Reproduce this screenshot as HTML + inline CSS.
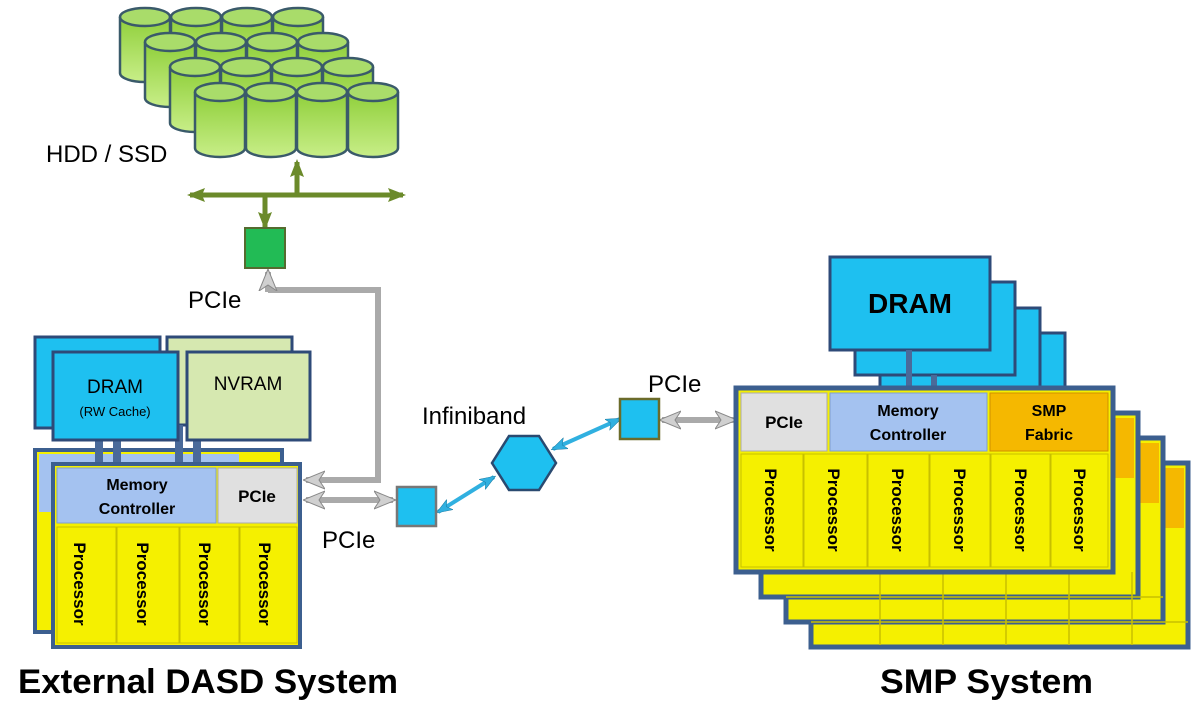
<!DOCTYPE html>
<html><head><style>html,body{margin:0;padding:0;background:#fff;width:1204px;height:706px;overflow:hidden}</style></head>
<body>
<svg width="1204" height="706" viewBox="0 0 1204 706" xmlns="http://www.w3.org/2000/svg" font-family="Liberation Sans, sans-serif">
<defs>
<linearGradient id="cyl" x1="0" x2="0" y1="0" y2="1"><stop offset="0" stop-color="#8fcf3a"/><stop offset="1" stop-color="#c8ee88"/></linearGradient>
<marker id="ag" markerWidth="18" markerHeight="18" refX="15" refY="9" orient="auto-start-reverse" markerUnits="userSpaceOnUse"><path d="M0,2 L18,9 L0,16 L3,9 z" fill="#6b8a2a"/></marker>
<marker id="agr" markerWidth="22" markerHeight="22" refX="19" refY="11" orient="auto-start-reverse" markerUnits="userSpaceOnUse"><path d="M0,2 L22,11 L0,20 L6,11 z" fill="#d0d0d0" stroke="#888" stroke-width="1"/></marker>
<marker id="ab" markerWidth="16" markerHeight="14" refX="14" refY="7" orient="auto-start-reverse" markerUnits="userSpaceOnUse"><path d="M0,1 L16,7 L0,13 L4,7 z" fill="#30b0e0" stroke="#1a7aa0" stroke-width="0.5"/></marker>
<g id="cy">
<path d="M0,9 L0,65 A25,9 0 0 0 50,65 L50,9" fill="url(#cyl)" stroke="#3a5a6a" stroke-width="2.5"/>
<ellipse cx="25" cy="9" rx="25" ry="9" fill="#a9dc6a" stroke="#3a5a6a" stroke-width="2.5"/>
</g>
</defs>

<g>
<use href="#cy" x="120" y="8"/><use href="#cy" x="171" y="8"/><use href="#cy" x="222" y="8"/><use href="#cy" x="273" y="8"/>
<use href="#cy" x="145" y="33"/><use href="#cy" x="196" y="33"/><use href="#cy" x="247" y="33"/><use href="#cy" x="298" y="33"/>
<use href="#cy" x="170" y="58"/><use href="#cy" x="221" y="58"/><use href="#cy" x="272" y="58"/><use href="#cy" x="323" y="58"/>
<use href="#cy" x="195" y="83"/><use href="#cy" x="246" y="83"/><use href="#cy" x="297" y="83"/><use href="#cy" x="348" y="83"/>
</g>
<text x="46" y="162" font-size="24" fill="#000">HDD / SSD</text>

<line x1="190" y1="195" x2="403" y2="195" stroke="#6b8a2a" stroke-width="5" marker-end="url(#ag)" marker-start="url(#ag)"/>
<line x1="297" y1="195" x2="297" y2="162" stroke="#6b8a2a" stroke-width="5" marker-end="url(#ag)"/>
<line x1="265" y1="195" x2="265" y2="227" stroke="#6b8a2a" stroke-width="5" marker-end="url(#ag)"/>
<rect x="245" y="228" width="40" height="40" fill="#22bb55" stroke="#556b2f" stroke-width="2"/>

<path d="M268,290 L378,290 L378,480 L306,480" fill="none" stroke="#aaa" stroke-width="6" marker-end="url(#agr)"/>
<line x1="268" y1="292" x2="268" y2="272" stroke="#aaa" stroke-width="6" marker-end="url(#agr)"/>
<line x1="306" y1="500" x2="393" y2="500" stroke="#aaa" stroke-width="6" marker-end="url(#agr)" marker-start="url(#agr)"/>
<line x1="662" y1="420" x2="734" y2="420" stroke="#aaa" stroke-width="6" marker-end="url(#agr)" marker-start="url(#agr)"/>
<text x="188" y="308" font-size="24">PCIe</text>
<text x="322" y="548" font-size="24">PCIe</text>
<text x="648" y="392" font-size="24">PCIe</text>
<text x="422" y="424" font-size="24">Infiniband</text>

<line x1="438" y1="512" x2="494" y2="477" stroke="#30b0e0" stroke-width="4" marker-end="url(#ab)" marker-start="url(#ab)"/>
<line x1="553" y1="449" x2="620" y2="419" stroke="#30b0e0" stroke-width="4" marker-end="url(#ab)" marker-start="url(#ab)"/>
<rect x="397" y="487" width="39" height="39" fill="#1ec0f0" stroke="#777" stroke-width="2.5"/>
<rect x="620" y="399" width="39" height="40" fill="#1ec0f0" stroke="#6b6b2a" stroke-width="2.5"/>
<polygon points="509,436 539,436 556,463 539,490 509,490 492,463" fill="#1ec0f0" stroke="#2a4a70" stroke-width="2.5"/>

<rect x="35" y="337" width="125" height="91" fill="#1ec0f0" stroke="#2e4a78" stroke-width="3"/>
<rect x="167" y="337" width="125" height="88" fill="#d6e8b0" stroke="#2e4a78" stroke-width="3"/>
<rect x="35" y="450" width="247" height="182" fill="#f5f000" stroke="#3c5f8f" stroke-width="4"/>
<rect x="39" y="454" width="200" height="58" fill="#a4c2f0"/>
<rect x="95" y="425" width="8" height="40" fill="#4a6a9a"/>
<rect x="113" y="425" width="8" height="40" fill="#4a6a9a"/>
<rect x="175" y="425" width="8" height="40" fill="#4a6a9a"/>
<rect x="193" y="425" width="8" height="40" fill="#4a6a9a"/>
<rect x="53" y="352" width="125" height="88" fill="#1ec0f0" stroke="#2e4a78" stroke-width="3"/>
<text x="115" y="393" font-size="19" text-anchor="middle">DRAM</text>
<text x="115" y="416" font-size="13" text-anchor="middle">(RW Cache)</text>
<rect x="187" y="352" width="123" height="88" fill="#d6e8b0" stroke="#2e4a78" stroke-width="3"/>
<text x="248" y="390" font-size="19" text-anchor="middle">NVRAM</text>
<rect x="53" y="464" width="247" height="183" fill="#f5f000" stroke="#3c5f8f" stroke-width="4"/>
<rect x="57" y="468" width="159" height="55" fill="#a4c2f0" stroke="#7f9fcf" stroke-width="1"/>
<text x="137" y="490" font-size="16" font-weight="bold" text-anchor="middle">Memory</text>
<text x="137" y="514" font-size="16" font-weight="bold" text-anchor="middle">Controller</text>
<rect x="218" y="468" width="79" height="55" fill="#e0e0e0" stroke="#aaa" stroke-width="1"/>
<text x="257" y="502" font-size="17" font-weight="bold" text-anchor="middle">PCIe</text>
<g font-size="17" font-weight="bold">
<rect x="57" y="527" width="59" height="116" fill="#f5f000" stroke="#c8c000"/>
<rect x="117" y="527" width="62" height="116" fill="#f5f000" stroke="#c8c000"/>
<rect x="180" y="527" width="59" height="116" fill="#f5f000" stroke="#c8c000"/>
<rect x="240" y="527" width="57" height="116" fill="#f5f000" stroke="#c8c000"/>
<text transform="translate(74,584) rotate(90)" text-anchor="middle">Processor</text>
<text transform="translate(137,584) rotate(90)" text-anchor="middle">Processor</text>
<text transform="translate(199,584) rotate(90)" text-anchor="middle">Processor</text>
<text transform="translate(259,584) rotate(90)" text-anchor="middle">Processor</text>
</g>

<rect x="905" y="333" width="160" height="93" fill="#1ec0f0" stroke="#2e4a78" stroke-width="3"/>
<rect x="880" y="308" width="160" height="93" fill="#1ec0f0" stroke="#2e4a78" stroke-width="3"/>
<rect x="855" y="282" width="160" height="93" fill="#1ec0f0" stroke="#2e4a78" stroke-width="3"/>
<rect x="830" y="257" width="160" height="93" fill="#1ec0f0" stroke="#2e4a78" stroke-width="3"/>
<text x="910" y="313" font-size="28" font-weight="bold" text-anchor="middle">DRAM</text>
<rect x="906" y="350" width="6" height="40" fill="#4a6a9a"/>
<rect x="931" y="375" width="6" height="15" fill="#4a6a9a"/>

<g>
<rect x="811" y="463" width="377" height="184" fill="#f5f000" stroke="#3c5f8f" stroke-width="5"/>
<rect x="1160" y="468" width="24" height="60" fill="#f5b800"/>
<rect x="786" y="438" width="377" height="184" fill="#f5f000" stroke="#3c5f8f" stroke-width="5"/>
<rect x="1135" y="443" width="24" height="60" fill="#f5b800"/>
<rect x="761" y="413" width="377" height="184" fill="#f5f000" stroke="#3c5f8f" stroke-width="5"/>
<rect x="1110" y="418" width="24" height="60" fill="#f5b800"/>
</g>
<g stroke="#c8c000" stroke-width="1.5">
<line x1="880" y1="572" x2="880" y2="645"/><line x1="943" y1="572" x2="943" y2="645"/><line x1="1006" y1="572" x2="1006" y2="645"/><line x1="1069" y1="572" x2="1069" y2="645"/><line x1="1132" y1="572" x2="1132" y2="645"/>
<line x1="811" y1="622" x2="1188" y2="622"/><line x1="786" y1="597" x2="1163" y2="597"/>
</g>

<rect x="736" y="388" width="377" height="184" fill="#f5f000" stroke="#3c5f8f" stroke-width="5"/>
<rect x="741" y="393" width="86" height="58" fill="#e0e0e0" stroke="#aaa"/>
<text x="784" y="428" font-size="17" font-weight="bold" text-anchor="middle">PCIe</text>
<rect x="830" y="393" width="157" height="58" fill="#a4c2f0" stroke="#7f9fcf"/>
<text x="908" y="416" font-size="16" font-weight="bold" text-anchor="middle">Memory</text>
<text x="908" y="440" font-size="16" font-weight="bold" text-anchor="middle">Controller</text>
<rect x="990" y="393" width="118" height="58" fill="#f5b800" stroke="#d09000"/>
<text x="1049" y="416" font-size="16" font-weight="bold" text-anchor="middle">SMP</text>
<text x="1049" y="440" font-size="16" font-weight="bold" text-anchor="middle">Fabric</text>
<g font-size="17" font-weight="bold">
<rect x="741" y="454" width="62" height="113" fill="#f5f000" stroke="#c8c000"/>
<rect x="804" y="454" width="63" height="113" fill="#f5f000" stroke="#c8c000"/>
<rect x="868" y="454" width="61" height="113" fill="#f5f000" stroke="#c8c000"/>
<rect x="930" y="454" width="60" height="113" fill="#f5f000" stroke="#c8c000"/>
<rect x="991" y="454" width="59" height="113" fill="#f5f000" stroke="#c8c000"/>
<rect x="1051" y="454" width="57" height="113" fill="#f5f000" stroke="#c8c000"/>
<text transform="translate(765,510) rotate(90)" text-anchor="middle">Processor</text>
<text transform="translate(828,510) rotate(90)" text-anchor="middle">Processor</text>
<text transform="translate(892,510) rotate(90)" text-anchor="middle">Processor</text>
<text transform="translate(954,510) rotate(90)" text-anchor="middle">Processor</text>
<text transform="translate(1015,510) rotate(90)" text-anchor="middle">Processor</text>
<text transform="translate(1074,510) rotate(90)" text-anchor="middle">Processor</text>
</g>

<text x="18" y="693" font-size="34" font-weight="bold" textLength="380" lengthAdjust="spacingAndGlyphs">External DASD System</text>
<text x="880" y="693" font-size="34" font-weight="bold" textLength="213" lengthAdjust="spacingAndGlyphs">SMP System</text>
</svg>
</body></html>
